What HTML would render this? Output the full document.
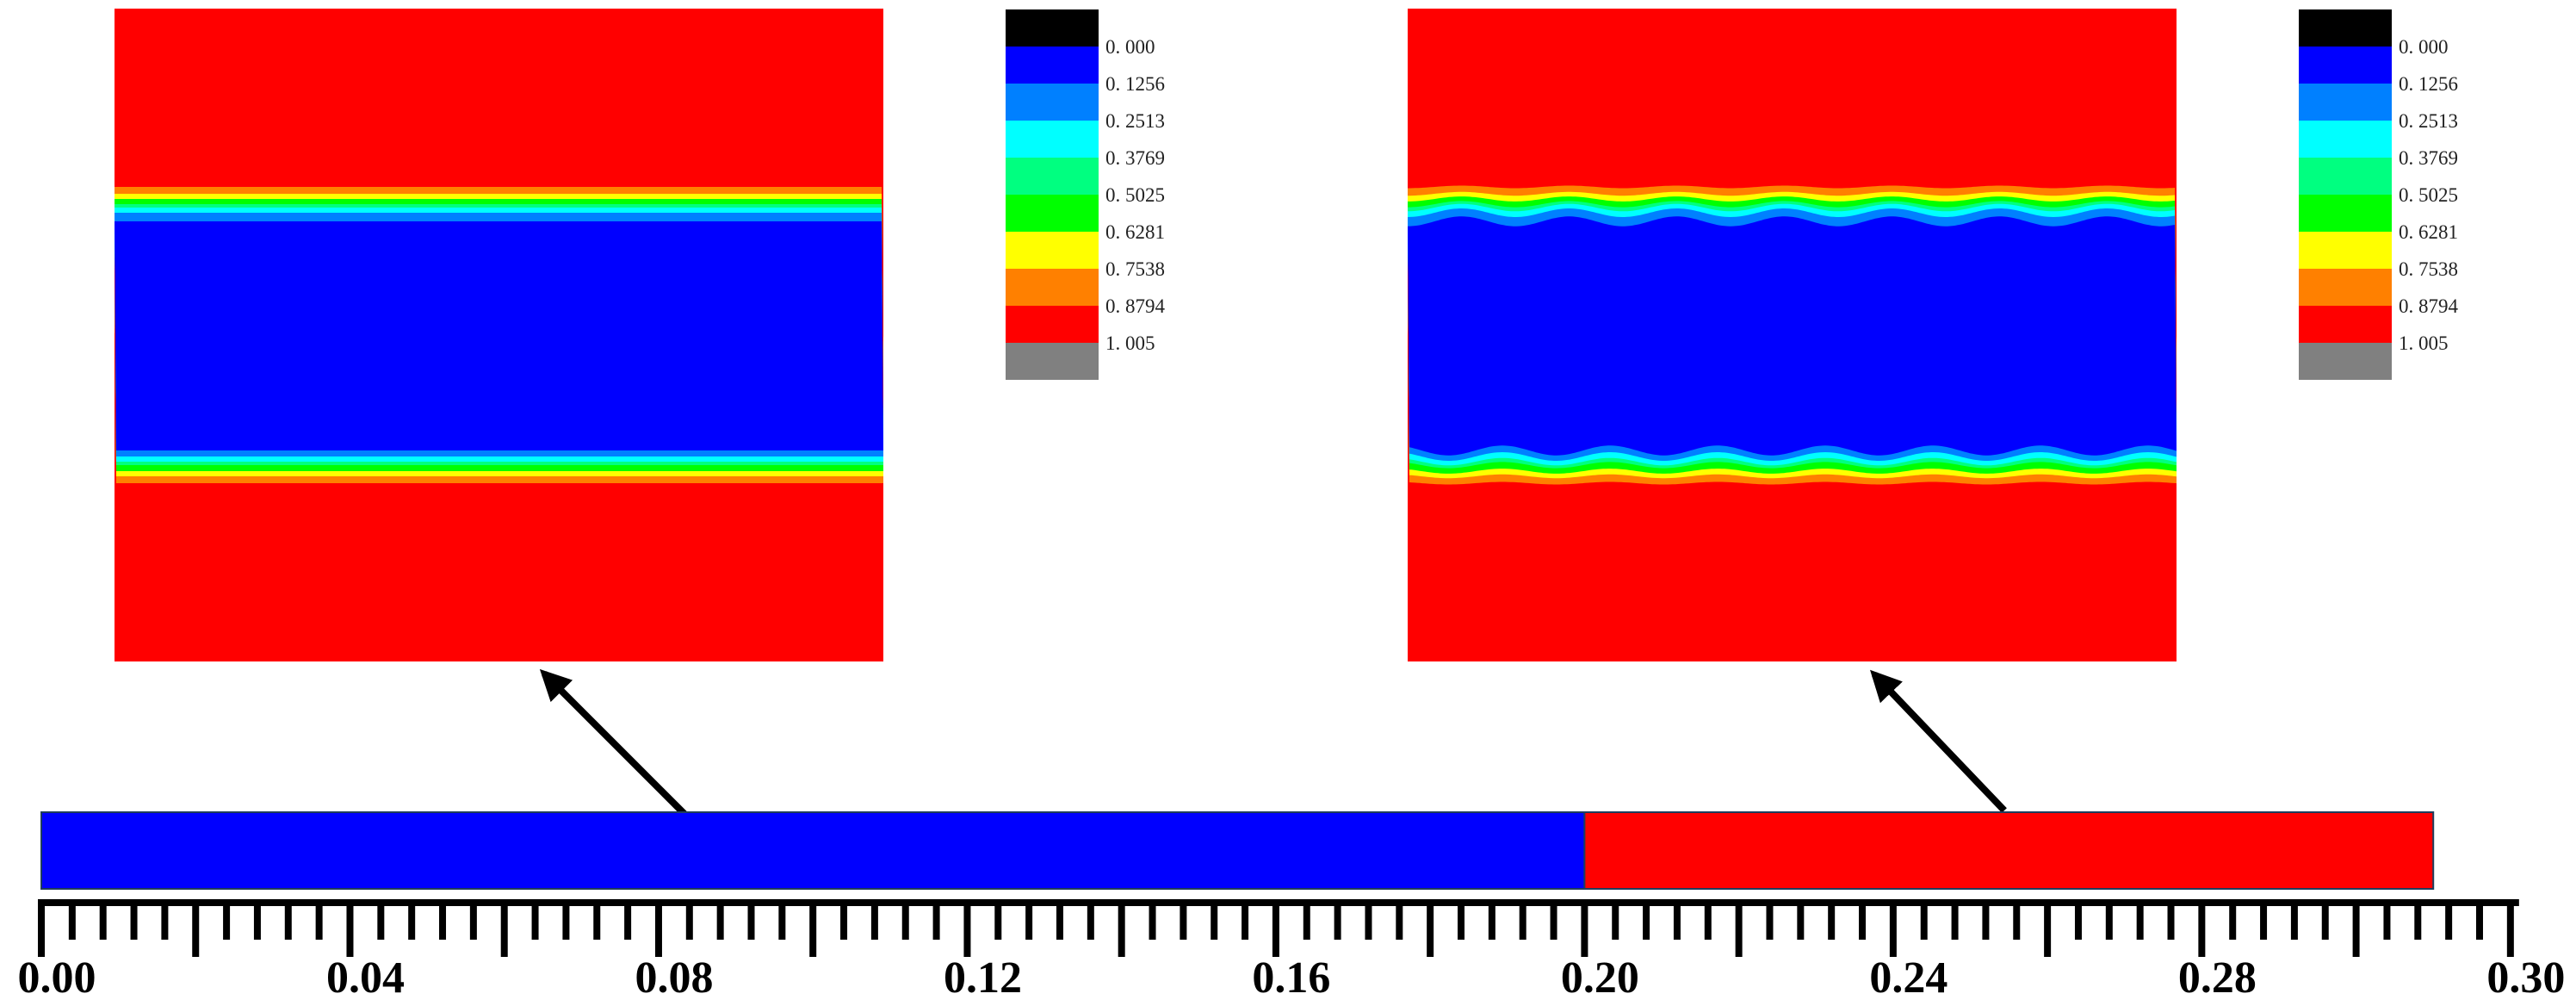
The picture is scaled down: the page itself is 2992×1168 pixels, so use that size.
<!DOCTYPE html>
<html><head><meta charset="utf-8"><style>
html,body{margin:0;padding:0;background:#fff;}
svg{display:block;}
</style></head><body>
<svg id="fig" width="2992" height="1168" viewBox="0 0 2992 1168" xmlns="http://www.w3.org/2000/svg">
<g id="panels"></g>
<g id="bars"></g>
<g id="arrows">
<defs><marker id="ah" viewBox="0 0 10 10" refX="8" refY="5" markerWidth="4.5" markerHeight="4.5" orient="auto"><path d="M0,0 L10,5 L0,10 z" fill="#000"/></marker></defs>
<line x1="800" y1="950" x2="632" y2="782" stroke="#000" stroke-width="8" marker-end="url(#ah)"/>
<line x1="2328" y1="941" x2="2177" y2="783" stroke="#000" stroke-width="8" marker-end="url(#ah)"/>
</g>
<g id="ruler"></g>
</svg>
<script>
const NS='http://www.w3.org/2000/svg';
const bandColors=['#000000','#0000ff','#0080ff','#00ffff','#00ff80','#00ff00','#ffff00','#ff8000','#ff0000','#808080'];
const bandLabels=['0. 000','0. 1256','0. 2513','0. 3769','0. 5025','0. 6281','0. 7538','0. 8794','1. 005'];
const segStarts=[0,0.2];
const segEnds=[0.2,0.31];
const segColors=['#0000ff','#ff0000'];
const tickLabelValues=[0,0.04,0.08,0.12,0.16,0.20,0.24,0.28,0.32];
const tickLabels=['0.00','0.04','0.08','0.12','0.16','0.20','0.24','0.28','0.30'];
const axisMax=0.32, minorStep=0.004;

function mk(tag,attrs,parent){const e=document.createElementNS(NS,tag);for(const k in attrs)e.setAttribute(k,attrs[k]);parent.appendChild(e);return e;}
const xs=v=>48+v*8962;

// contour panels
const panels=document.getElementById('panels');
const topB=[217,225,231,237,241,247,257];
const botB=[561,553,547,540,536,530,523];
const fillC=['#ff8000','#ffff00','#00ff00','#00ff80','#00ffff','#0080ff','#0000ff'];
function drawPanel(x0,wavy,name){
  const W=893,T=10,B=768;
  const g=mk('g',{},panels);
  
  
  const bg=mk('rect',{x:x0,y:T,width:W,height:B-T,fill:'#ff0000'},g);
  
  
  for(let i=0;i<topB.length;i++){
    const amp=wavy?(1.5+i*0.7):0;
    let d='';
    for(let x=0;x<=W;x+=3){
      const yt=topB[i]+amp*Math.cos(2*Math.PI*(x-125)/125);
      d+=(x?'L':'M')+(x0+x)+','+yt.toFixed(1);
    }
    for(let x=W;x>=0;x-=3){
      const yb=botB[i]-amp*Math.cos(2*Math.PI*(x-110)/125);
      d+='L'+(x0+x)+','+yb.toFixed(1);
    }
    d+='Z';
    const p=mk('path',{d:d,fill:fillC[i]},g);
    
    
  }
}
drawPanel(133,false,'contour-panel-initial');
drawPanel(1635,true,'contour-panel-later');

// colorbars
const bars=document.getElementById('bars');
function drawBar(x0,name){
  const g=mk('g',{},bars);
  
  
  const h=43,y0=11;
  bandColors.forEach((c,i)=>{
    const r=mk('rect',{x:x0,y:y0+i*h,width:108,height:h,fill:c},g);
    
    
  });
  bandLabels.forEach((t,i)=>{
    const tx=mk('text',{x:x0+116,y:y0+(i+1)*h+8,'font-family':'Liberation Serif, serif','font-size':'23',fill:'#222'},g);
    tx.textContent=t;
    
    
  });
}
drawBar(1168,'colorbar-left');
drawBar(2670,'colorbar-right');

// ruler
const ruler=document.getElementById('ruler');
segStarts.forEach((s,i)=>{
  const r=mk('rect',{x:xs(s),y:943,width:xs(segEnds[i])-xs(s),height:89,fill:segColors[i],stroke:'#1f3d5c','stroke-width':2},ruler);
  
  
});
const al=mk('rect',{x:xs(0)-4,y:1044,width:xs(axisMax)-xs(0)+14,height:8,fill:'#000'},ruler);


const n=Math.round(axisMax/minorStep);
for(let i=0;i<=n;i++){
  const v=i*minorStep,major=(i%5===0);
  const t=mk('rect',{x:xs(v)-4,y:1048,width:8,height:major?63:43,fill:'#000'},ruler);
  
  
}
tickLabelValues.forEach((v,i)=>{
  const t=mk('text',{x:xs(v)+18,y:1152,'text-anchor':'middle','font-family':'Liberation Serif, serif','font-weight':'bold','font-size':'52',fill:'#000'},ruler);
  t.textContent=tickLabels[i];
  
  
});
</script>
</body></html>
